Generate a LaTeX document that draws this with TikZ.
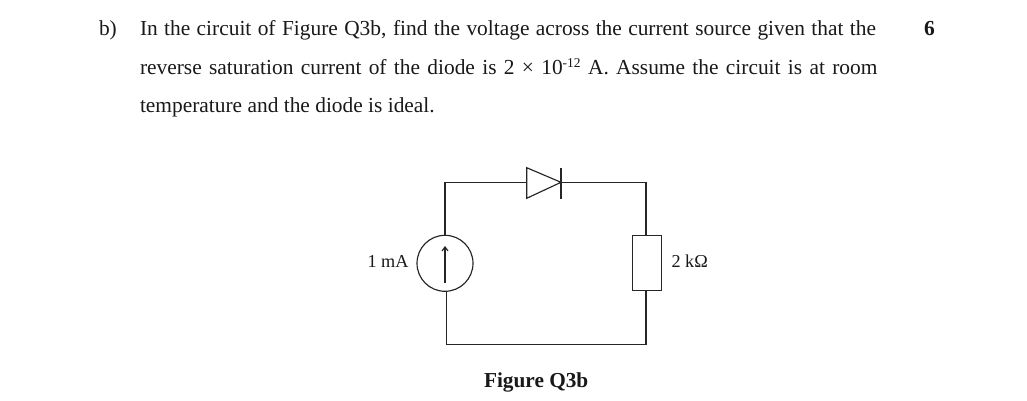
\documentclass[tikz,border=0pt]{standalone}
\usepackage{fontspec}
\usetikzlibrary{arrows.meta}
\setmainfont{Liberation Serif}
\tikzset{
  txt/.style={inner sep=0pt,outer sep=0pt,anchor=base west,font=\fontsize{21.4}{24}\selectfont,text=black!90},
  lbl/.style={inner sep=0pt,outer sep=0pt,anchor=base west,font=\fontsize{18.2}{20}\selectfont,text=black!90},
  wire/.style={draw=black!85,line width=1.15pt},
  srcnode/.style={circle,wire,minimum size=56pt,inner sep=0pt,outer sep=0pt},
  resnode/.style={rectangle,wire,minimum width=29.5pt,minimum height=55.5pt,inner sep=0pt,outer sep=0pt},
}
\begin{document}
\begin{tikzpicture}[x=1pt,y=-1pt]
\useasboundingbox[fill=white] (0,0) rectangle (1027,401);
\node[txt] (b) at (99,36) {b)};
\node[txt] (l1) at (140,36) {\makebox[736pt][s]{In the circuit of Figure Q3b, find the voltage across the current source given that the}};
\node[txt] (six) at (924,36) {\textbf{6}};
\node[txt] (l2) at (140,74.5) {\makebox[737.5pt][s]{reverse saturation current of the diode is 2 × 10\raisebox{6.5pt}{\fontsize{13.5}{14}\selectfont -12} A. Assume the circuit is at room}};
\node[txt] (l3) at (140,112.5) {temperature and the diode is ideal.};
\node[srcnode] (src) at (445,263.3) {};
\node[resnode] (res) at (647,263) {};
\coordinate (tl) at (445,182.3);
\coordinate (tr) at (646,182.3);
\coordinate (bl) at (446.3,344.3);
\coordinate (br) at (646,344.3);
\coordinate (da) at (526.7,182.3);
\coordinate (dk) at (561,182.3);
\coordinate (dt) at (526.7,167.7);
\coordinate (db) at (526.7,198.3);
\coordinate (kt) at (561,168);
\coordinate (kb) at (561,198.5);
\coordinate (at) at (445,246);
\coordinate (ab) at (445,282.5);
\draw[wire] (src.north) -- (tl) -- (da);
\draw[wire] (dt) -- (dk) -- (db) -- cycle;
\draw[wire] (kt) -- (kb);
\draw[wire] (dk) -- (tr) -- (res.north -| tr);
\draw[wire] (res.south -| br) -- (br) -- (bl) -- (bl |- src.south);
\draw[wire,-{Straight Barb[length=4pt,width=6pt]}] (ab) -- (at);
\node[lbl] (ima) at (367.5,267) {1 mA};
\node[lbl] (rv) at (671.5,267) {2 kΩ};
\node[txt,font=\fontsize{21.3}{24}\selectfont\bfseries] (cap) at (484,387) {Figure Q3b};
\end{tikzpicture}
\end{document}
